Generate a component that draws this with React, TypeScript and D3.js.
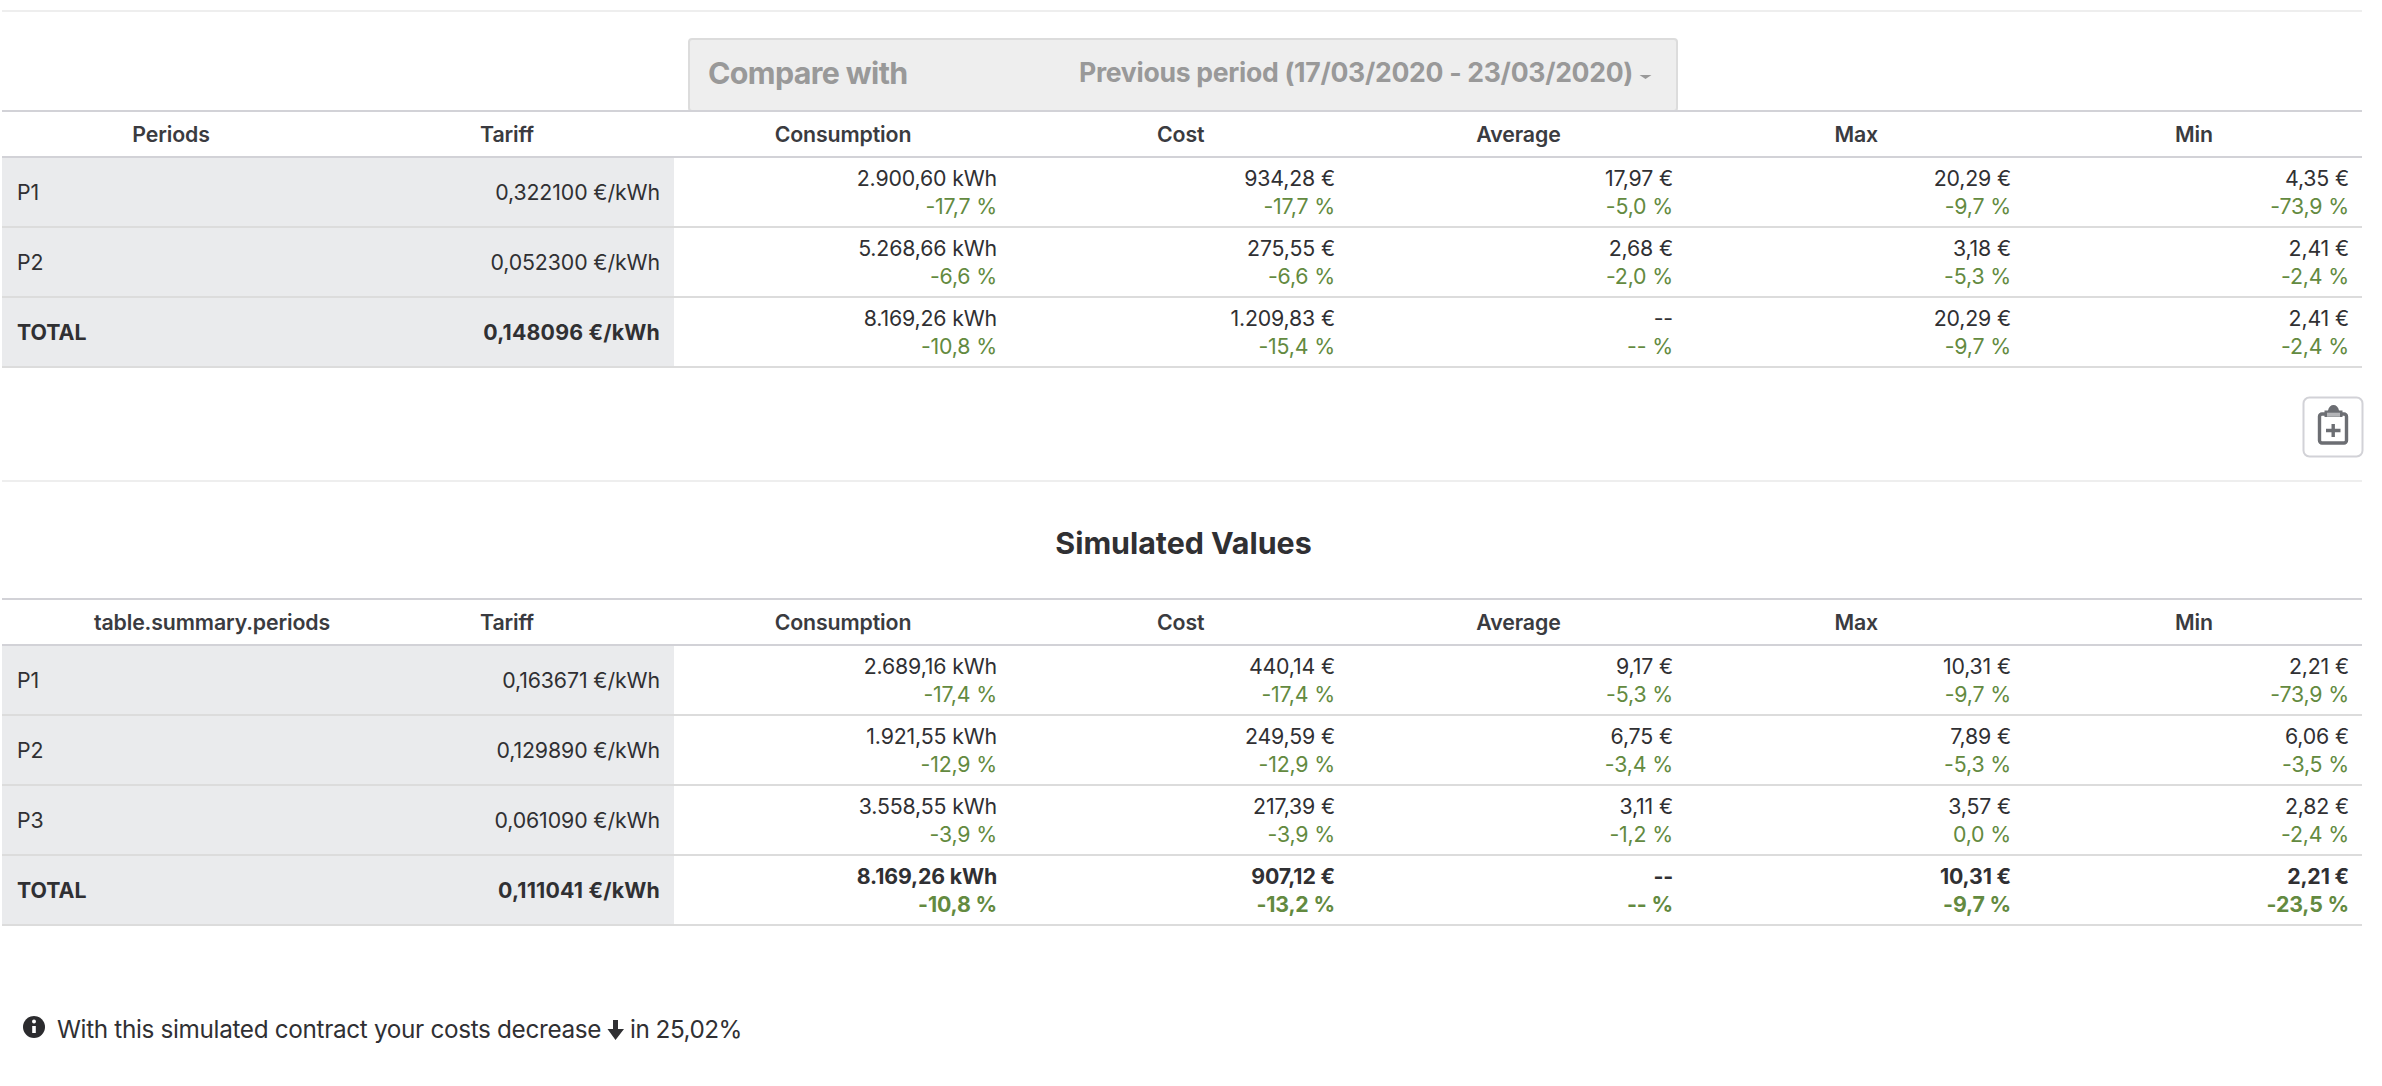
import React, { useEffect, useRef } from "react";
import * as d3 from "d3";

const columns = ["Consumption", "Cost", "Average", "Max", "Min"];
const units = [" kWh", " €", " €", " €", " €"];

const comparePeriods = ["P1", "P2", "TOTAL"];
const compareTariffs = [0.3221, 0.0523, 0.148096];
const compareValues = [
  [2900.6, 934.28, 17.97, 20.29, 4.35],
  [5268.66, 275.55, 2.68, 3.18, 2.41],
  [8169.26, 1209.83, null, 20.29, 2.41],
];
const comparePct = [
  [-17.7, -17.7, -5.0, -9.7, -73.9],
  [-6.6, -6.6, -2.0, -5.3, -2.4],
  [-10.8, -15.4, null, -9.7, -2.4],
];

const simPeriods = ["P1", "P2", "P3", "TOTAL"];
const simTariffs = [0.163671, 0.12989, 0.06109, 0.111041];
const simValues = [
  [2689.16, 440.14, 9.17, 10.31, 2.21],
  [1921.55, 249.59, 6.75, 7.89, 6.06],
  [3558.55, 217.39, 3.11, 3.57, 2.82],
  [8169.26, 907.12, null, 10.31, 2.21],
];
const simPct = [
  [-17.4, -17.4, -5.3, -9.7, -73.9],
  [-12.9, -12.9, -3.4, -5.3, -3.5],
  [-3.9, -3.9, -1.2, 0.0, -2.4],
  [-10.8, -13.2, null, -9.7, -23.5],
];

const FONT = "Inter, sans-serif";
const DARK = "#303033";
const GREEN = "#638a40";

const locale = d3.formatLocale({
  decimal: ",",
  thousands: ".",
  grouping: [3],
  currency: ["", "€"],
  minus: "-",
});
const fmtValue = locale.format(",.2f");
const fmtPct = locale.format(".1f");
const fmtTariff = locale.format(".6f");

type TableSpec = {
  top: number;
  periodsLabel: string;
  periodsX: number;
  periods: string[];
  tariffs: number[];
  values: (number | null)[][];
  pct: (number | null)[][];
  boldTotal: boolean;
  labelDy: number;
};

const App: React.FC = () => {
  const svgRef = useRef<SVGSVGElement | null>(null);

  useEffect(() => {
    if (!svgRef.current) return;
    const svg = d3.select(svgRef.current);
    svg.selectAll("*").remove();
    svg.attr("font-family", FONT);

    const rule = (y: number, color: string, x0 = 2, x1 = 2362) =>
      svg.append("line").attr("x1", x0).attr("x2", x1).attr("y1", y).attr("y2", y)
        .attr("stroke", color).attr("stroke-width", 2);

    const label = (x: number, y: number, s: string, size: number, weight: number, fill: string, anchor = "start", spacing = 0) =>
      svg.append("text").attr("x", x).attr("y", y).attr("font-size", size)
        .attr("font-weight", weight).attr("fill", fill).attr("text-anchor", anchor)
        .attr("letter-spacing", spacing).text(s);

    rule(11, "#eeeeee");
    rule(481, "#eeeeee");

    // compare selector
    svg.append("rect").attr("x", 689).attr("y", 39).attr("width", 988).attr("height", 72).attr("rx", 3)
      .attr("fill", "#eeeeee").attr("stroke", "#dcdcdc").attr("stroke-width", 2);
    label(708, 84, "Compare with", 30.4, 700, "#999999", "start", -0.63);
    label(1079, 82, "Previous period (17/03/2020 - 23/03/2020)", 26.6, 700, "#999999", "start", -0.3);
    svg.append("path").attr("d", "M1639.5 75 H1651.5 L1645.5 79 Z").attr("fill", "#999999");

    const rightX = d3.scalePoint<string>().domain(columns).range([997, 2349]);
    const headX = d3.scalePoint<string>().domain(columns).range([843, 2194]);

    const drawTable = (t: TableSpec) => {
      const headBottom = t.top + 46;
      const y = d3.scaleBand<string>()
        .domain(t.periods)
        .range([headBottom, headBottom + t.periods.length * 70]);

      svg.append("rect").attr("x", 2).attr("y", headBottom).attr("width", 672)
        .attr("height", t.periods.length * 70).attr("fill", "#eaebed");

      rule(t.top, "#d2d2d7");
      rule(headBottom, "#d2d2d7");

      label(t.periodsX, t.top + 31, t.periodsLabel, 21.3, 600, "#3a3b40", "middle", -0.12);
      label(507, t.top + 31, "Tariff", 21.3, 600, "#3a3b40", "middle", -0.12);
      columns.forEach(c => label(headX(c)!, t.top + 31, c, 21.3, 600, "#3a3b40", "middle", -0.12));

      t.periods.forEach((p, i) => {
        const rowTop = y(p)!;
        const isTotal = p === "TOTAL";
        rule(rowTop + 70, "#dcdcdc");
        label(17, rowTop + t.labelDy, p, 21.3, isTotal ? 700 : 400, DARK);
        label(660, rowTop + t.labelDy, `${fmtTariff(t.tariffs[i])} €/kWh`, 21.3, isTotal ? 700 : 400, DARK, "end", isTotal ? 0.2 : -0.1);

        columns.forEach((c, j) => {
          const v = t.values[i][j];
          const pc = t.pct[i][j];
          const weight = isTotal && t.boldTotal ? 700 : 400;
          label(rightX(c)!, rowTop + 28.7, v === null ? "--" : fmtValue(v) + units[j], 21.3, weight, DARK, "end", -0.15);
          label(rightX(c)!, rowTop + 56.6, `${pc === null ? "--" : fmtPct(pc)} %`, 21.3, weight, GREEN, "end", -0.15);
        });
      });
    };

    drawTable({
      top: 111, periodsLabel: "Periods", periodsX: 171, periods: comparePeriods,
      tariffs: compareTariffs, values: compareValues, pct: comparePct, boldTotal: false, labelDy: 42.7,
    });

    label(1183.5, 553.5, "Simulated Values", 30.4, 700, DARK, "middle", -0.03);

    drawTable({
      top: 599, periodsLabel: "table.summary.periods", periodsX: 212, periods: simPeriods,
      tariffs: simTariffs, values: simValues, pct: simPct, boldTotal: true, labelDy: 43.3,
    });

    // clipboard button
    svg.append("rect").attr("x", 2303.5).attr("y", 397.5).attr("width", 59).attr("height", 59).attr("rx", 6)
      .attr("fill", "#ffffff").attr("stroke", "#d2d2d7").attr("stroke-width", 2);
    const ink = "#6c6e73";
    svg.append("rect").attr("x", 2319.5).attr("y", 414).attr("width", 27).attr("height", 29).attr("rx", 2.5)
      .attr("fill", "none").attr("stroke", ink).attr("stroke-width", 3.4);
    svg.append("path").attr("d", "M2324.5 417 V410.5 H2328 C2329 403 2338 403 2339 410.5 H2342.5 V417 Z").attr("fill", ink);
    svg.append("rect").attr("x", 2327).attr("y", 412.7).attr("width", 13).attr("height", 4).attr("fill", "#b4b5b8");
    svg.append("path").attr("d", "M2326 430.5 H2340.5 M2333.2 424 V437").attr("stroke", ink).attr("stroke-width", 3.4);

    // footer note
    svg.append("circle").attr("cx", 34).attr("cy", 1027).attr("r", 11).attr("fill", "#2b2b2e");
    svg.append("rect").attr("x", 32.2).attr("y", 1026).attr("width", 3.6).attr("height", 7).attr("fill", "#ffffff");
    svg.append("circle").attr("cx", 34).attr("cy", 1021.5).attr("r", 2).attr("fill", "#ffffff");
    label(57, 1038, "With this simulated contract your costs decrease", 24.3, 400, DARK, "start", -0.33);
    svg.append("path").attr("d", "M613 1020 H618 V1029 H624 L615.5 1040 L607.5 1029 H613 Z").attr("fill", DARK);
    label(630, 1038, "in 25,02%", 24.3, 400, DARK, "start", -0.5);
  }, []);

  return (
    <svg
      ref={svgRef}
      width={2382}
      height={1086}
      style={{ position: "absolute", left: 0, top: 0, background: "#fff" }}
    />
  );
};

export default App;
